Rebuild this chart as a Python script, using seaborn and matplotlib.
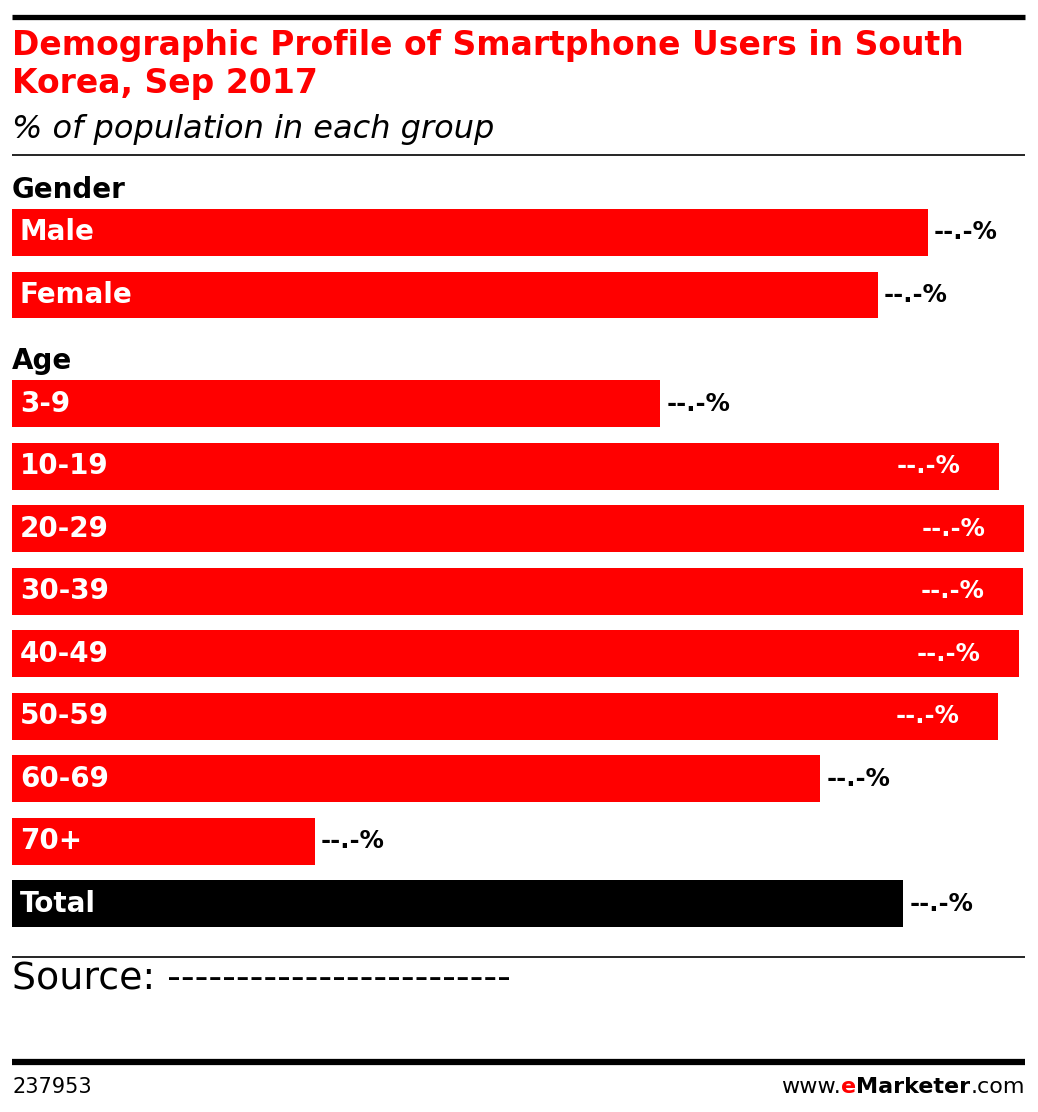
import matplotlib
matplotlib.use('Agg')
import matplotlib.pyplot as plt
import seaborn as sns
import pandas as pd
from matplotlib.lines import Line2D

W, H = 1038, 1112

# data
groups = ['Gender', 'Gender', 'Age', 'Age', 'Age', 'Age', 'Age', 'Age', 'Age', 'Age', '']
labels = ['Male', 'Female', '3-9', '10-19', '20-29', '30-39', '40-49', '50-59', '60-69', '70+', 'Total']
values = [90.4, 85.5, 64.0, 97.4, 99.9, 99.8, 99.4, 97.3, 79.8, 29.9, 88.0]
value_text = ['--.-%'] * len(labels)

title = 'Demographic Profile of Smartphone Users in South\nKorea, Sep 2017'
subtitle = '% of population in each group'
source = 'Source: ' + '-' * 25
chart_id = '237953'

RED = '#ff0000'

sns.set_style('white')
plt.rcParams['font.family'] = ['DejaVu Sans']
plt.rcParams['text.color'] = 'black'


def fy(px):
    return 1 - px / H


# bar positions: one step per bar, extra room before a group header
pos = []
headers = []
p = 0.0
prev = None
for i, g in enumerate(groups):
    if i > 0:
        p += 1.0
        if g != prev and g:
            p += 0.74
    if g != prev and g:
        headers.append((g, p))
    pos.append(p)
    prev = g

df = pd.DataFrame({'label': labels, 'value': values, 'pos': pos, 'txt': value_text})
colors = {lab: ('black' if lab == 'Total' else RED) for lab in labels}

fig = plt.figure(figsize=(W / 100, H / 100), dpi=100)

# axes mapped so that pixel y = 232.5 + pos * 62.5
ax_top, ax_bot = 170, 940
ax = fig.add_axes([12 / W, fy(ax_bot), 1013 / W, (ax_bot - ax_top) / H])
sns.barplot(data=df, x='value', y='pos', hue='label', palette=colors, orient='h',
            native_scale=True, width=0.75, linewidth=0, saturation=1,
            legend=False, ax=ax)
ax.set_xlim(0, 100)
ax.set_ylim((ax_bot - 232.5) / 62.5, (ax_top - 232.5) / 62.5)
ax.axis('off')

px_unit = 100 / 1013
for lab, v, y, t in zip(df['label'], df['value'], df['pos'], df['txt']):
    ax.text(8 * px_unit, y, lab, color='white', fontsize=20, fontweight='bold',
            va='center', ha='left')
    if v > 92:
        ax.text(v - 38 * px_unit, y, t, color='white', fontsize=17.5,
                fontweight='bold', va='center', ha='right')
    else:
        ax.text(v + 6 * px_unit, y, t, color='black', fontsize=17.5,
                fontweight='bold', va='center', ha='left')

# group headers
for g, y in headers:
    base = 232.5 + (y - 0.712) * 62.5 + 10
    fig.text(12 / W, fy(base), g, fontsize=20, fontweight='bold', va='baseline')

# title block
t1, t2 = title.split('\n')
fig.text(12 / W, fy(55), t1, color=RED, fontsize=23.8, fontweight='bold', va='baseline')
fig.text(12 / W, fy(93), t2, color=RED, fontsize=23.8, fontweight='bold', va='baseline')
fig.text(12 / W, fy(138), subtitle, fontsize=23, style='italic', va='baseline')


# rules
def hline(ypx, lw):
    fig.add_artist(Line2D([12 / W, 1025 / W], [fy(ypx), fy(ypx)], color='black',
                          linewidth=lw, solid_capstyle='butt',
                          transform=fig.transFigure))


hline(16.5, 3.8)
hline(155, 1.2)
hline(957, 1.2)
hline(1062, 4.5)

fig.text(12 / W, fy(989), source, fontsize=27.3, va='baseline')
fig.text(12 / W, fy(1093), chart_id, fontsize=15, va='baseline')

# www.eMarketer.com, built right to left
fig.canvas.draw()
r = fig.canvas.get_renderer()
x = 1025
for txt, col, wt in reversed([('www.', 'black', 'normal'), ('e', RED, 'bold'),
                              ('Marketer', 'black', 'bold'), ('.com', 'black', 'normal')]):
    t = fig.text(x / W, fy(1093), txt, color=col, fontweight=wt, fontsize=16,
                 ha='right', va='baseline')
    x = t.get_window_extent(renderer=r).x0

fig.savefig('out.png', dpi=100)
